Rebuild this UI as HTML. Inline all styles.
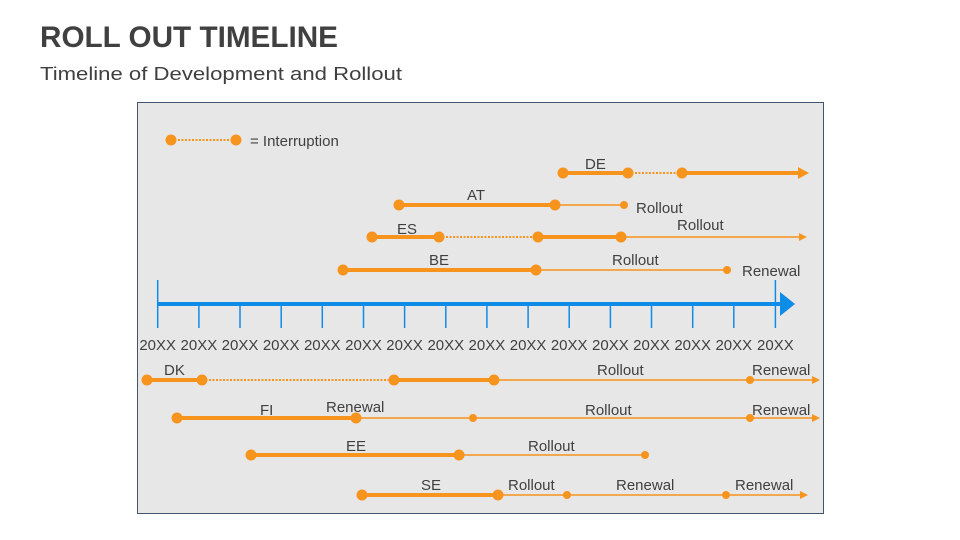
<!DOCTYPE html>
<html><head><meta charset="utf-8"><style>
html,body{margin:0;padding:0;background:#fff;}
svg{display:block;font-family:"Liberation Sans",sans-serif;}
</style></head><body>
<svg width="960" height="540" viewBox="0 0 960 540" xmlns="http://www.w3.org/2000/svg">
<text x="40" y="47" font-size="30" font-weight="bold" fill="#404040" textLength="298" lengthAdjust="spacingAndGlyphs">ROLL OUT TIMELINE</text>
<text x="40" y="80" font-size="18" fill="#404040" textLength="362" lengthAdjust="spacingAndGlyphs">Timeline of Development and Rollout</text>
<rect x="137.5" y="102.5" width="686" height="411" fill="#e7e7e7" stroke="#44546a" stroke-width="1"/>
<g stroke="#0f8be8" stroke-width="1.5">
<line x1="157.7" y1="280" x2="157.7" y2="328"/>
<line x1="775.4" y1="280" x2="775.4" y2="328"/>
<line x1="198.9" y1="304" x2="198.9" y2="328"/><line x1="240" y1="304" x2="240" y2="328"/><line x1="281.2" y1="304" x2="281.2" y2="328"/><line x1="322.3" y1="304" x2="322.3" y2="328"/><line x1="363.5" y1="304" x2="363.5" y2="328"/><line x1="404.6" y1="304" x2="404.6" y2="328"/><line x1="445.8" y1="304" x2="445.8" y2="328"/><line x1="486.9" y1="304" x2="486.9" y2="328"/><line x1="528.1" y1="304" x2="528.1" y2="328"/><line x1="569.2" y1="304" x2="569.2" y2="328"/><line x1="610.4" y1="304" x2="610.4" y2="328"/><line x1="651.5" y1="304" x2="651.5" y2="328"/><line x1="692.7" y1="304" x2="692.7" y2="328"/><line x1="733.8" y1="304" x2="733.8" y2="328"/>
</g>
<line x1="157" y1="304" x2="782" y2="304" stroke="#0f8be8" stroke-width="4"/>
<polygon points="780,292 795,304 780,316" fill="#0f8be8"/>
<g font-size="15" fill="#404040" text-anchor="middle">
<text x="157.7" y="350">20XX</text><text x="198.9" y="350">20XX</text><text x="240" y="350">20XX</text><text x="281.2" y="350">20XX</text><text x="322.3" y="350">20XX</text><text x="363.5" y="350">20XX</text><text x="404.6" y="350">20XX</text><text x="445.8" y="350">20XX</text><text x="486.9" y="350">20XX</text><text x="528.1" y="350">20XX</text><text x="569.2" y="350">20XX</text><text x="610.4" y="350">20XX</text><text x="651.5" y="350">20XX</text><text x="692.7" y="350">20XX</text><text x="733.8" y="350">20XX</text><text x="775.4" y="350">20XX</text>
</g>
<g stroke="#f7941d" fill="none">
<!-- legend -->
<line x1="171" y1="140" x2="236" y2="140" stroke-width="2" stroke-dasharray="2,1.5"/>
<!-- DE -->
<line x1="563" y1="173" x2="628" y2="173" stroke-width="4"/>
<line x1="628" y1="173" x2="682" y2="173" stroke-width="2" stroke-dasharray="2,1.5"/>
<line x1="682" y1="173" x2="800" y2="173" stroke-width="4"/>
<!-- AT -->
<line x1="399" y1="205" x2="555" y2="205" stroke-width="4"/>
<line x1="555" y1="205" x2="624" y2="205" stroke-width="1.5"/>
<!-- ES -->
<line x1="372" y1="237" x2="439" y2="237" stroke-width="4"/>
<line x1="439" y1="237" x2="538" y2="237" stroke-width="2" stroke-dasharray="2,1.5"/>
<line x1="538" y1="237" x2="621" y2="237" stroke-width="4"/>
<line x1="621" y1="237" x2="800" y2="237" stroke-width="1.5"/>
<!-- BE -->
<line x1="343" y1="270" x2="536" y2="270" stroke-width="4"/>
<line x1="536" y1="270" x2="727" y2="270" stroke-width="1.5"/>
<!-- DK -->
<line x1="147" y1="380" x2="202" y2="380" stroke-width="4"/>
<line x1="202" y1="380" x2="394" y2="380" stroke-width="2" stroke-dasharray="2,1.5"/>
<line x1="394" y1="380" x2="494" y2="380" stroke-width="4"/>
<line x1="494" y1="380" x2="813" y2="380" stroke-width="1.5"/>
<!-- FI -->
<line x1="177" y1="418" x2="356" y2="418" stroke-width="4"/>
<line x1="356" y1="418" x2="813" y2="418" stroke-width="1.5"/>
<!-- EE -->
<line x1="251" y1="455" x2="459" y2="455" stroke-width="4"/>
<line x1="459" y1="455" x2="645" y2="455" stroke-width="1.5"/>
<!-- SE -->
<line x1="362" y1="495" x2="498" y2="495" stroke-width="4"/>
<line x1="498" y1="495" x2="801" y2="495" stroke-width="1.5"/>
</g>
<g fill="#f7941d">
<polygon points="798,167 809,173 798,179"/>
<polygon points="799,233 807,237 799,241"/>
<polygon points="812,376 820,380 812,384"/>
<polygon points="812,414 820,418 812,422"/>
<polygon points="800,491 808,495 800,499"/>
<circle cx="171" cy="140" r="5.5"/><circle cx="236" cy="140" r="5.5"/>
<circle cx="563" cy="173" r="5.5"/><circle cx="628" cy="173" r="5.5"/><circle cx="682" cy="173" r="5.5"/>
<circle cx="399" cy="205" r="5.5"/><circle cx="555" cy="205" r="5.5"/><circle cx="624" cy="205" r="4"/>
<circle cx="372" cy="237" r="5.5"/><circle cx="439" cy="237" r="5.5"/><circle cx="538" cy="237" r="5.5"/><circle cx="621" cy="237" r="5.5"/>
<circle cx="343" cy="270" r="5.5"/><circle cx="536" cy="270" r="5.5"/><circle cx="727" cy="270" r="4"/>
<circle cx="147" cy="380" r="5.5"/><circle cx="202" cy="380" r="5.5"/><circle cx="394" cy="380" r="5.5"/><circle cx="494" cy="380" r="5.5"/><circle cx="750" cy="380" r="4"/>
<circle cx="177" cy="418" r="5.5"/><circle cx="356" cy="418" r="5.5"/><circle cx="473" cy="418" r="4"/><circle cx="750" cy="418" r="4"/>
<circle cx="251" cy="455" r="5.5"/><circle cx="459" cy="455" r="5.5"/><circle cx="645" cy="455" r="4"/>
<circle cx="362" cy="495" r="5.5"/><circle cx="498" cy="495" r="5.5"/><circle cx="567" cy="495" r="4"/><circle cx="726" cy="495" r="4"/>
</g>
<g font-size="15" fill="#404040">
<text x="250" y="146">= Interruption</text>
<text x="585" y="169">DE</text>
<text x="467" y="200">AT</text>
<text x="636" y="213">Rollout</text>
<text x="397" y="234">ES</text>
<text x="677" y="230">Rollout</text>
<text x="429" y="265">BE</text>
<text x="612" y="265">Rollout</text>
<text x="742" y="276">Renewal</text>
<text x="164" y="375">DK</text>
<text x="597" y="375">Rollout</text>
<text x="752" y="375">Renewal</text>
<text x="260" y="415">FI</text>
<text x="326" y="412">Renewal</text>
<text x="585" y="415">Rollout</text>
<text x="752" y="415">Renewal</text>
<text x="346" y="451">EE</text>
<text x="528" y="451">Rollout</text>
<text x="421" y="490">SE</text>
<text x="508" y="490">Rollout</text>
<text x="616" y="490">Renewal</text>
<text x="735" y="490">Renewal</text>
</g>
</svg>
</body></html>
